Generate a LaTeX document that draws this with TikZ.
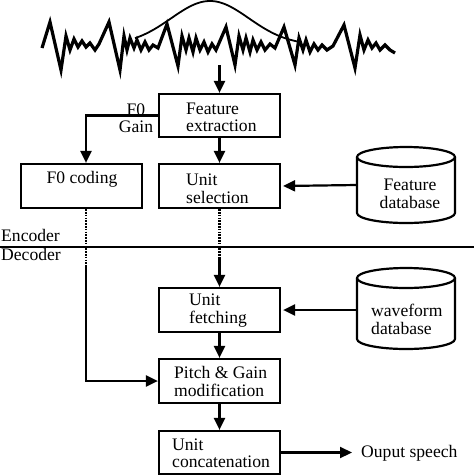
\documentclass[tikz,border=0pt]{standalone}
\usepackage{fontspec}
\setmainfont{Liberation Serif}
\usetikzlibrary{arrows.meta}
\begin{document}
\begin{tikzpicture}[x=1pt,y=-1pt,
  every node/.style={font=\fontsize{17.6}{17.5}\selectfont, inner sep=0pt},
  box/.style={draw, line width=2.2pt, minimum width=121pt},
  txt/.style={anchor=west, align=left},
  conn/.style={line width=2.2pt},
  arr/.style={conn, -{Triangle[length=12pt,width=11pt]}},
  dots/.style={line width=2.4pt, dash pattern=on 1.6pt off 1.2pt},
  cyl/.style={draw, line width=2.2pt}]
\useasboundingbox (0,0) rectangle (474,475);

% waveform
\draw[line width=3.2pt, line join=miter, miter limit=10]
 (42,48) -- (50,22) -- (61,70) -- (66,36) -- (70,50) -- (74,39) -- (78,47) -- (82,41) -- (86,47) -- (90,43) -- (95,50) -- (99,44)
 -- (109,22) -- (120,70) -- (124,36) -- (127,50) -- (130,38) -- (134,48) -- (137,40) -- (141,50) -- (145,42) -- (149,50) -- (153,45) -- (158,48)
 -- (167,24) -- (178,66) -- (182,36) -- (186,50) -- (189,38) -- (193,52) -- (196,38) -- (200,50) -- (204,42) -- (208,52) -- (212,44) -- (216,50)
 -- (226,27) -- (235,65) -- (239,36) -- (243,50) -- (246,38) -- (250,52) -- (253,40) -- (257,50) -- (261,42) -- (265,50) -- (270,44) -- (275,48)
 -- (284,27) -- (295,65) -- (299,38) -- (303,50) -- (306,40) -- (310,52) -- (314,44) -- (318,50) -- (322,45) -- (327,50) -- (333,46)
 -- (344,25) -- (355,68) -- (360,35) -- (364,50) -- (368,40) -- (372,48) -- (376,43) -- (380,50) -- (385,45) -- (390,50) -- (395,53);
% gaussian window
\draw[line width=1.8pt] plot[domain=135:300, samples=80, smooth] (\x, {45-44*exp(-((\x-210)/55)^2)});

% boxes
\node[box, minimum height=43pt] (fe) at (219.5,115.5) {};
\node[box, minimum height=44pt] (f0) at (81.5,186) {};
\node[box, minimum height=44pt] (us) at (219.5,186) {};
\node[box, minimum height=44pt] (uf) at (219.5,310) {};
\node[box, minimum height=44pt] (pg) at (219.5,381) {};
\node[box, minimum height=43pt] (uc) at (219.5,452.5) {};

% box texts
\node[txt] at (186,117.5) {Feature\\extraction};
\node[anchor=base] at (82,183) {F0 coding};
\node[txt] at (186,189) {Unit\\selection};
\node[txt] at (189,310.5) {Unit\\fetching};
\node[txt] at (174,381.5) {Pitch \& Gain\\modification};
\node[txt] at (172,453.5) {Unit\\concatenation};

% databases
\node[minimum width=98pt, minimum height=76pt] (fdb) at (406,185) {};
\draw[cyl] (357,157) -- (357,213) arc[start angle=180, end angle=360, x radius=49pt, y radius=10pt] -- (455,157);
\draw[cyl] (406,157) ellipse[x radius=49pt, y radius=10pt];
\node[align=center] at (410,194) {Feature\\database};

\node[minimum width=98pt, minimum height=81pt] (wdb) at (406,308.5) {};
\draw[cyl] (357,278) -- (357,339) arc[start angle=180, end angle=360, x radius=49pt, y radius=10pt] -- (455,278);
\draw[cyl] (406,278) ellipse[x radius=49pt, y radius=10pt];
\node[txt] at (371,319.5) {waveform\\database};

% labels
\node[align=center] (f0g) at (136,118) {F0\\Gain};
\node[anchor=base west] (enc) at (1,241) {Encoder};
\node[anchor=base west] (dec) at (1,260) {Decoder};
\node[anchor=base west] (out) at (361,457) {Ouput speech};

% divider
\coordinate (dl) at (0,247);
\coordinate (dr) at (474,247);
\draw[line width=1.3pt] (dl) -- (dr);

% connectors
\coordinate (wv) at (219.5,65);
\draw[arr] (wv) -- (fe.north);
\draw[arr] (fe.west) -| ([xshift=4.5pt]f0.north);
\draw[arr] (fe.south) -- (us.north);
\draw[arr] (fdb.west) -- ([xshift=2pt]us.east);

\coordinate (usd) at (219.5,258);
\draw[dots] (us.south) -- (usd);
\draw[arr] (usd) -- (uf.north);

\coordinate (f0d) at (86,265);
\draw[dots] ([xshift=4.5pt]f0.south) -- (f0d);
\draw[arr] (f0d) |- (pg.west);

\draw[arr] (wdb.west |- uf.east) -- ([xshift=2pt]uf.east);
\draw[arr] (uf.south) -- (pg.north);
\draw[arr] (pg.south) -- (uc.north);
\draw[arr] (uc.east) -- ([xshift=-9pt]out.west |- uc.east);
\end{tikzpicture}
\end{document}
